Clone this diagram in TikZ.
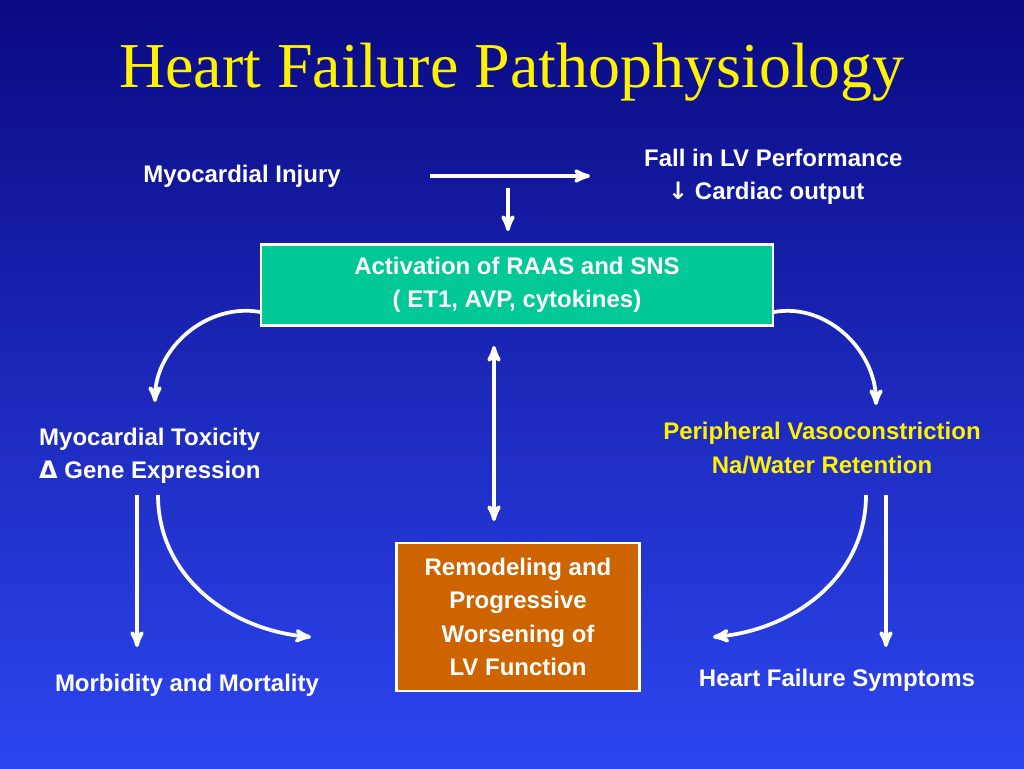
\documentclass[tikz,border=0pt]{standalone}
\usepackage{fontspec}
\setmainfont{Liberation Sans}
\newfontfamily\titlefont{Liberation Serif}
\newfontfamily\symfont{DejaVu Sans}
\usetikzlibrary{positioning,arrows,shapes.misc}

\begin{document}
\begin{tikzpicture}[x=0.75pt,y=-0.75pt,->,>=stealth',line width=2.8pt,white,
  txt/.style={font=\bfseries\fontsize{18}{25}\selectfont,text=white,align=center,inner sep=1pt},
  box/.style={draw=white,line width=1.8pt,minimum width=384pt,minimum height=61pt}]

\shade[top color={rgb,255:red,10;green,10;blue,130},bottom color={rgb,255:red,45;green,70;blue,240}]
  (0,0) rectangle (1024,768);
\useasboundingbox (0,0) rectangle (1024,768);

\node (title) at (512,72) [text=yellow,font=\titlefont\fontsize{48}{52}\selectfont] {Heart Failure Pathophysiology};

\node (injury) at (242,176) [txt] {Myocardial Injury};
\node (fall) at (641,177) [txt,anchor=west,align=left]
  {Fall in LV Performance\\\hspace*{18pt}{\symfont ↓} Cardiac output};

\node (raas) at (517,285) [box,fill={rgb,255:red,0;green,200;blue,150},txt] 
  {Activation of RAAS and SNS\\( ET1, AVP, cytokines)};

\node (tox) at (36,456) [txt,anchor=west,align=left]
  {Myocardial Toxicity\\{\symfont Δ} Gene Expression};
\node (vaso) at (822,448) [txt,text=yellow] {Peripheral Vasoconstriction\\Na/Water Retention};

\node (remodel) at (518,617) [draw=white,line width=1.8pt,fill={rgb,255:red,205;green,100;blue,0},
  minimum width=182pt,minimum height=111pt,txt] {Remodeling and\\Progressive\\Worsening of\\LV Function};

\node (morb) at (187,685) [txt] {Morbidity and Mortality};
\node (sympt) at (837,680) [txt] {Heart Failure Symptoms};

% free ends of the connectors
\coordinate (a1) at (430,176);
\coordinate (a2) at (590,176);
\coordinate (d1) at (508,188);
\coordinate (d2) at (508,231);
\coordinate (l1) at (260,312);
\coordinate (l2) at (155,402);
\coordinate (r1) at (774,312);
\coordinate (r2) at (876,405);
\coordinate (v1) at (494,346);
\coordinate (v2) at (494,521);
\coordinate (m1) at (137,495);
\coordinate (m2) at (137,647);
\coordinate (c1) at (158,495);
\coordinate (c2) at (311,637);
\coordinate (s1) at (886,495);
\coordinate (s2) at (886,647);
\coordinate (e1) at (866,495);
\coordinate (e2) at (713,637);

\draw (a1) -- (a2);
\draw (d1) -- (d2);
\draw (l1) to[out=170,in=90] (l2);
\draw (r1) to[out=10,in=90] (r2);
\draw[<->] (v1) -- (v2);
\draw (m1) -- (m2);
\draw (c1) to[out=-90,in=175] (c2);
\draw (s1) -- (s2);
\draw (e1) to[out=-90,in=5] (e2);

\end{tikzpicture}
\end{document}
